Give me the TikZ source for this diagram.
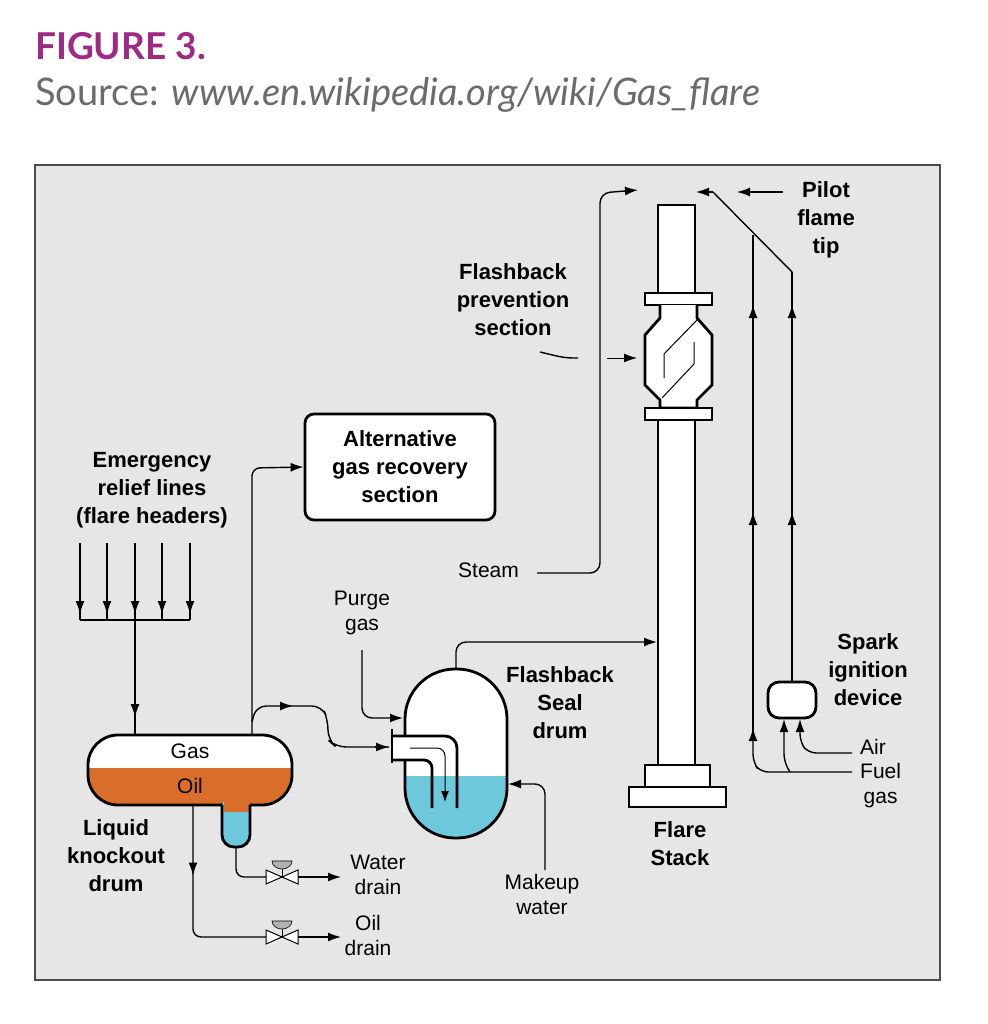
\documentclass[tikz,border=0pt]{standalone}
\usepackage{fontspec}
\setmainfont{Liberation Sans}
\newfontfamily\headfont{Lato}
\usetikzlibrary{arrows.meta,decorations.markings}
\definecolor{bgc}{HTML}{E6E6E6}
\definecolor{oilc}{HTML}{D96D2A}
\definecolor{watc}{HTML}{6CC8DA}
\definecolor{purp}{HTML}{9E2A83}
\definecolor{srcg}{HTML}{6B6B6B}
\begin{document}
\begin{tikzpicture}[x=1pt,y=-1pt,
  ln/.style={line width=1.4pt},
  thk/.style={line width=2.8pt},
  arr/.style={ln,-{Latex[length=13pt,width=9pt]}},
  uparr/.style={postaction={decorate},decoration={markings,mark=at position #1 with {\arrow{Latex[length=13pt,width=9pt]}}}},
  lab/.style={font=\fontsize{22}{28}\selectfont\bfseries,align=center,inner sep=0},
  txt/.style={font=\fontsize{21}{25}\selectfont,align=center,inner sep=0}]
\useasboundingbox (0,0) rectangle (987,1024);
\fill[white] (0,0) rectangle (987,1024);
\node[anchor=base west,inner sep=0,text=purp,font=\headfont\fontsize{37}{40}\selectfont\bfseries] (fig) at (35,60) {FIGURE 3.};
\node[anchor=base west,inner sep=0,text=srcg,font=\headfont\fontsize{38}{40}\selectfont] (src) at (35,106) {Source: \textit{www.en.wikipedia.org/wiki/Gas\_flare}};
\draw[fill=bgc,draw=black!70,line width=1.5pt] (35,165) rectangle (940,980);
% emergency lines
\node[lab] (em) at (152,490) {Emergency\\relief lines\\(flare headers)};
\foreach \x in {80,107,135,162,190}{\draw[arr] (\x,543) -- (\x,614);}
\draw[ln] (80,620) -- (190,620);
\foreach \x in {80,107,162,190}{\draw[ln] (\x,610) -- (\x,620);}
\coordinate (kin) at (135,736);
\draw[ln,uparr=0.85] (135,610) -- (kin);
% knockout drum
\begin{scope}
\clip[rounded corners=30pt] (88,735) rectangle (292,805);
\fill[white] (88,735) rectangle (292,768);
\fill[oilc] (88,768) rectangle (292,805);
\end{scope}
\draw[thk,rounded corners=30pt] (88,735) rectangle (292,805);
\fill[watc,rounded corners=12pt] (222,795) rectangle (250,847);
\fill[oilc] (223.5,795) rectangle (248.5,812);
\draw[thk,rounded corners=12pt] (222,805) -- (222,847) -- (250,847) -- (250,805);
\node[txt] (gas) at (190,751) {Gas};
\node[txt] (oil) at (190,786) {Oil};
\node[lab] (lk) at (116,856) {Liquid\\knockout\\drum};
% alternative
\node[draw,thk,fill=white,rounded corners=9pt,minimum width=190pt,minimum height=106pt,lab] (alt) at (400,467) {Alternative\\gas recovery\\section};
\draw[arr,rounded corners=8pt] (252,735) -- (252,468) -- (alt.west);
% to seal drum
\coordinate (sin) at (389,747);
\draw[ln,uparr=0.25,rounded corners=10pt] (252,722) -- (256,706) -- (322,706) -- (328,720) -- (328,740) -- (336,747) -- (sin);
\draw[arr] (375,747) -- (sin);
% purge gas
\node[txt] (pg) at (362,613) {Purge\\gas};
\draw[arr,rounded corners=10pt] (362,650) -- (362,718) -- (403,718);
% seal drum
\begin{scope}
\clip[rounded corners=50pt] (405,669) rectangle (507,838);
\fill[white] (405,669) rectangle (507,776);
\fill[watc] (405,776) rectangle (507,838);
\end{scope}
\draw[thk,rounded corners=50pt] (405,669) rectangle (507,838);
\draw[thk] (392,729) -- (392,763);
\fill[white] (393,736) rectangle (430,760);
\draw[thk,rounded corners=12pt] (393,736) -- (457,736) -- (457,808);
\draw[thk,rounded corners=8pt] (393,760) -- (432,760) -- (432,808);
\draw[rounded corners=8pt,line width=1pt,-{Latex[length=11pt,width=8pt]}] (410,748) -- (445,748) -- (445,802);
\node[lab] (sd) at (560,703) {Flashback\\Seal\\drum};
% makeup water
\node[txt] (mw) at (542,894) {Makeup\\water};
\draw[arr,rounded corners=10pt] (545,870) -- (545,784) -- (508,784);
% drum to stack
\coordinate (stin) at (657,642);
\draw[arr,rounded corners=10pt] (456,669) -- (456,642) -- (stin);
% stack
\draw[thk,fill=white] (658,205) rectangle (695,293);
\draw[thk,fill=white] (645,293) rectangle (712,305);
\draw[thk,fill=white] (660,305) -- (660,318) -- (645,335) -- (645,385) -- (660,400) -- (660,408) -- (697,408) -- (697,400) -- (712,385) -- (712,335) -- (697,318) -- (697,305);
\draw[line width=1pt] (697,320) -- (664,354) -- (664,378);
\draw[line width=1pt] (694,342) -- (694,364) -- (662,398);
\draw[thk,fill=white] (645,408) rectangle (712,420);
\draw[thk,fill=white] (658,420) rectangle (695,765);
\draw[thk,fill=white] (645,765) rectangle (710,787);
\draw[thk,fill=white] (629,787) rectangle (726,807);
\node[lab] (fs) at (680,844) {Flare\\Stack};
% flashback prevention
\node[lab] (fp) at (513,300) {Flashback\\prevention\\section};
\draw[ln,rounded corners=8pt] (540,352) -- (565,358) -- (578,358);
\draw[arr,line width=1pt] (607,358) -- (637,358);
% steam
\node[txt,anchor=west] (st) at (458,570) {Steam};
\draw[arr,rounded corners=10pt] (537,573) -- (600,573) -- (600,193) -- (638,190);
% pilot lines
\node[lab] (pil) at (826,220) {Pilot\\flame\\tip};
\draw[arr] (783,192) -- (737,192);
\coordinate (ptip) at (696,192);
\draw[ln] (753,235) -- (753,740);
\draw[ln] (792,272) -- (713,192);
\draw[arr] (713,192) -- (ptip);
\node[draw,thk,fill=white,rounded corners=11pt,minimum width=48pt,minimum height=36pt] (sp) at (792,700) {};
\draw[ln] (sp.north) -- (792,272);
\foreach \x in {753,792}{\foreach \y in {305,512}{\draw[arr] (\x,\y+14) -- (\x,\y);}}
\node[lab] (sid) at (868,670) {Spark\\ignition\\device};
\node[txt,anchor=west] (air) at (860,747) {Air};
\node[txt,anchor=west] (fg) at (860,786) {Fuel\\gas};
\draw[arr,rounded corners=8pt] (852,772) -- (760,772) -- (753,762) -- (753,728);
\draw[arr,rounded corners=8pt] (790,772) -- (784,762) -- (784,719);
\draw[arr,rounded corners=8pt] (852,753) -- (808,753) -- (800,742) -- (800,719);
% valves
\foreach \yy in {877,937}{
  \draw[line width=1pt,fill=white] (266,\yy-7) -- (266,\yy+7) -- (282,\yy) -- cycle;
  \draw[line width=1pt,fill=white] (298,\yy-7) -- (298,\yy+7) -- (282,\yy) -- cycle;
  \draw[line width=1pt] (282,\yy) -- (282,\yy-16);
  \fill[gray!60] (272,\yy-16) arc (180:0:10 and 8) -- cycle;
  \draw[line width=0.6pt] (272,\yy-16) arc (180:0:10 and 8) -- cycle;
}
\draw[ln,rounded corners=8pt] (236,847) -- (236,877) -- (266,877);
\draw[arr] (298,877) -- (341,877);
\node[txt] (wd) at (378,875) {Water\\drain};
\draw[ln,uparr=0.35,rounded corners=8pt] (193,805) -- (193,937) -- (266,937);
\draw[arr] (298,937) -- (341,937);
\node[txt] (od) at (368,935) {Oil\\drain};
\end{tikzpicture}
\end{document}
